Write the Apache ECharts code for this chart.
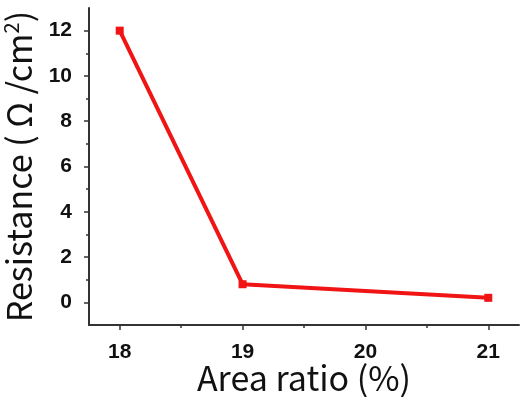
<!DOCTYPE html>
<html>
<head>
<meta charset="utf-8">
<script src="https://cdn.jsdelivr.net/npm/echarts@6/dist/echarts.min.js"></script>
<style>
  html, body { margin: 0; padding: 0; background: #fff; }
  #chart { width: 520px; height: 397px; }
</style>
</head>
<body>
<div id="chart"></div>
<script>
// 数据
const areaRatio = [18, 19, 21]
const resistance = [12, 0.8, 0.2]
const xTicks = [18, 19, 20, 21]
const xMinorTicks = [18.5, 19.5, 20.5]
const yTicks = [0, 2, 4, 6, 8, 10, 12]
const yMinorTicks = [1, 3, 5, 7, 9, 11]

const chart = echarts.init(document.getElementById('chart'))
const titleFont = '"Noto Sans CJK JP", "Noto Sans", sans-serif'
const labelFont = '"Liberation Sans", Arial, sans-serif'
const axisColor = '#333'

const option = {
  animation: false,
  grid: { left: 89, right: 1, top: 8, bottom: 72, containLabel: false, outerBoundsMode: 'none' },
  xAxis: [
    {
      type: 'value',
      min: 17.75,
      max: 21.25,
      name: 'Area ratio (%)',
      nameLocation: 'middle',
      nameGap: 36,
      nameMoveOverlap: false,
      nameTextStyle: { fontSize: 34, color: '#111', fontFamily: titleFont },
      axisLine: { onZero: false, lineStyle: { color: axisColor, width: 2 } },
      axisTick: { customValues: xTicks, length: 5, lineStyle: { color: axisColor, width: 1.5 } },
      axisLabel: { customValues: xTicks, fontSize: 21, fontWeight: 'bold', color: '#111', margin: 17, fontFamily: labelFont },
      splitLine: { show: false }
    },
    {
      // 次刻度
      type: 'value',
      position: 'bottom',
      min: 17.75,
      max: 21.25,
      axisLine: { show: false, onZero: false },
      axisTick: { customValues: xMinorTicks, length: 3, lineStyle: { color: axisColor, width: 1.5 } },
      axisLabel: { show: false },
      splitLine: { show: false }
    }
  ],
  yAxis: [
    {
      type: 'value',
      min: -1,
      max: 13,
      name: '{a|Resistance ( Ω /cm}{s|2}{a|)}',
      nameLocation: 'middle',
      nameGap: 52,
      nameTextStyle: {
        rich: {
          a: { fontSize: 34, color: '#111', fontFamily: titleFont },
          s: { fontSize: 20, color: '#111', fontFamily: titleFont, verticalAlign: 'top', padding: [0, 0, 16, 0] }
        }
      },
      axisLine: { onZero: false, lineStyle: { color: axisColor, width: 2 } },
      axisTick: { customValues: yTicks, length: 5, lineStyle: { color: axisColor, width: 1.5 } },
      axisLabel: { customValues: yTicks, fontSize: 21, fontWeight: 'bold', color: '#111', margin: 17, fontFamily: labelFont },
      splitLine: { show: false }
    },
    {
      type: 'value',
      position: 'left',
      min: -1,
      max: 13,
      axisLine: { show: false, onZero: false },
      axisTick: { customValues: yMinorTicks, length: 3, lineStyle: { color: axisColor, width: 1.5 } },
      axisLabel: { show: false },
      splitLine: { show: false }
    }
  ],
  series: [
    {
      type: 'line',
      data: areaRatio.map((x, i) => [x, resistance[i]]),
      symbol: 'rect',
      symbolSize: 8,
      lineStyle: { color: '#f01414', width: 4 },
      itemStyle: { color: '#f01414' }
    }
  ]
}
chart.setOption(option)
</script>
</body>
</html>
